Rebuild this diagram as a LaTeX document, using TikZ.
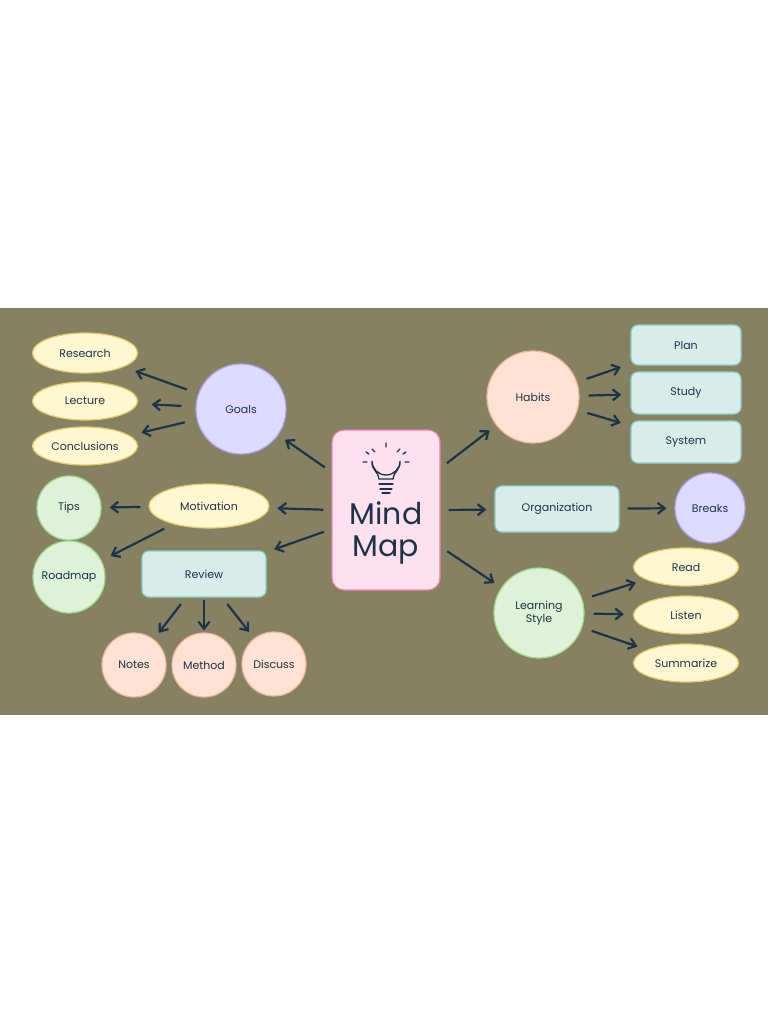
\documentclass[tikz,border=0pt]{standalone}
\usepackage{fontspec}
\setmainfont{Poppins}
\usetikzlibrary{arrows.meta,shapes.geometric}
\definecolor{bg}{HTML}{878164}
\definecolor{ink}{HTML}{1C3446}
\definecolor{pinkf}{HTML}{FFE0EE}\definecolor{pinkd}{HTML}{E883AC}
\definecolor{lavf}{HTML}{DEDBFF}\definecolor{lavd}{HTML}{ADA6EE}
\definecolor{yelf}{HTML}{FFF6D2}\definecolor{yeld}{HTML}{E6CC6A}
\definecolor{grnf}{HTML}{DDF2D6}\definecolor{grnd}{HTML}{A5D68E}
\definecolor{teaf}{HTML}{D8EDEA}\definecolor{tead}{HTML}{8ECFC6}
\definecolor{peaf}{HTML}{FFE2D4}\definecolor{pead}{HTML}{EFB89E}
\begin{document}
\begin{tikzpicture}[x=1pt,y=-1pt,
  lbl/.style={text=ink,font=\fontsize{11}{13}\selectfont,align=center,line width=1.2pt,inner sep=0pt},
  cir/.style={lbl,circle,minimum size=#1},
  ell/.style={lbl,ellipse,minimum width=105pt,minimum height=38pt},
  rbox/.style={lbl,rounded corners=7pt,minimum width=#1,minimum height=42pt},
  yel/.style={fill=yelf,draw=yeld},grn/.style={fill=grnf,draw=grnd},
  tea/.style={fill=teaf,draw=tead},pea/.style={fill=peaf,draw=pead},lav/.style={fill=lavf,draw=lavd},
  arr/.style={draw=ink,line width=2.2pt,-{Straight Barb[length=7pt,width=11pt]},shorten <=#1,shorten >=#1},
  arr/.default=8pt]
\fill[white] (0,0) rectangle (768,1024);
\fill[bg] (0,308) rectangle (768,715);
% center
\node[lbl,fill=pinkf,draw=pinkd,rounded corners=12pt,minimum width=108pt,minimum height=160pt] (c) at (386,510) {};
\node[text=ink,font=\fontsize{30}{32}\selectfont,align=center] (ct) at (386,533) {Mind\\Map};
\begin{scope}[draw=ink,line width=1.3pt,line cap=round]
\draw (379,479) .. controls (379,472) and (371,470) .. (372,461) arc[start angle=180,end angle=0,radius=14] .. controls (401,470) and (393,472) .. (393,479) -- cycle;
\draw (379,484)--(393,484) (380,489)--(392,489) (382,493)--(390,493);
\draw (386,443)--(386,447) (372,449)--(375,452) (400,449)--(397,452) (363,462)--(367,462) (405,462)--(409,462) (366,452)--(369,454)(406,452)--(403,454);
\end{scope}
% left
\node[cir=90pt,lav] (goals) at (241,409) {Goals};
\node[ell,yel,minimum height=40pt] (research) at (85,353) {Research};
\node[ell,yel] (lecture) at (85,401) {Lecture};
\node[ell,yel] (concl) at (85,446) {Conclusions};
\node[lbl,ellipse,yel,minimum width=120pt,minimum height=44pt] (motiv) at (209,506) {Motivation};
\node[cir=64pt,grn] (tips) at (69,508) {Tips};
\node[cir=72pt,grn] (road) at (69,577) {Roadmap};
\node[rbox=124pt,tea,minimum height=46pt] (review) at (204,574) {Review};
\node[cir=64pt,pea] (notes) at (134,665) {Notes};
\node[cir=64pt,pea] (method) at (204,665) {Method};
\node[cir=64pt,pea] (discuss) at (274,664) {Discuss};
% right
\node[cir=92pt,pea] (habits) at (533,397) {Habits};
\node[rbox=110pt,tea,minimum height=40pt] (plan) at (686,345) {Plan};
\node[rbox=110pt,tea] (study) at (686,393) {Study};
\node[rbox=110pt,tea] (system) at (686,442) {System};
\node[rbox=124pt,tea,minimum height=46pt] (org) at (557,509) {Organization};
\node[cir=70pt,lav] (breaks) at (710,508) {Breaks};
\node[cir=90pt,grn] (ls) at (539,613) {Learning\\Style};
\node[ell,yel] (read) at (686,567) {Read};
\node[ell,yel] (listen) at (686,615) {Listen};
\node[ell,yel] (summ) at (686,663) {Summarize};
% arrows
\draw[arr] (c) -- (goals);
\draw[arr] (c.west) -- (motiv);
\draw[arr] (c) -- (review);
\draw[arr] (c) -- (habits);
\draw[arr] (c.east) -- (org);
\draw[arr] (c) -- (ls);
\draw[arr=12pt] (goals) -- (research);
\draw[arr=14pt] (goals) -- (lecture);
\draw[arr=12pt] (goals) -- (concl);
\draw[arr] (motiv) -- (tips);
\draw[arr=10pt] (motiv) -- (road);
\draw[arr=8pt] (review) -- (notes);
\draw[arr=2pt] (review) -- (method);
\draw[arr=8pt] (review) -- (discuss);
\draw[arr=10pt] (habits) -- (plan);
\draw[arr=9pt] (habits) -- (study);
\draw[arr=10pt] (habits) -- (system);
\draw[arr=8pt] (org) -- (breaks);
\draw[arr=10pt] (ls) -- (read);
\draw[arr=9pt] (ls) -- (listen);
\draw[arr=10pt] (ls) -- (summ);
\end{tikzpicture}
\end{document}
